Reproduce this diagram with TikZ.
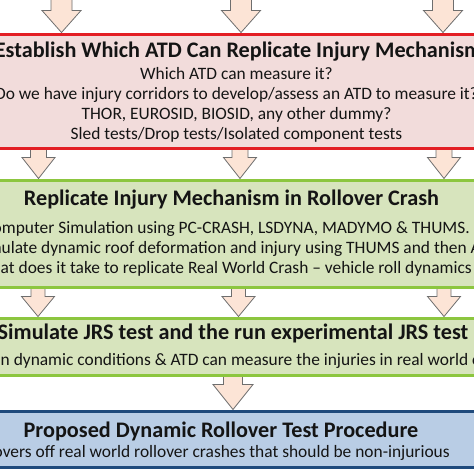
\documentclass[tikz,border=0pt]{standalone}
\usepackage{fontspec}
\setmainfont{Carlito}
\usetikzlibrary{calc}
\usetikzlibrary{backgrounds}
\definecolor{redborder}{HTML}{E31E24}
\definecolor{redfill}{HTML}{F2DCDB}
\definecolor{greenborder}{HTML}{8CC63F}
\definecolor{greenfill}{HTML}{D7E4BD}
\definecolor{blueborder}{HTML}{1F4A7C}
\definecolor{bluefill}{HTML}{B9CDE5}
\definecolor{arrowfill}{HTML}{FCE4D6}
\definecolor{arrowline}{HTML}{6E6E6E}
\definecolor{textcol}{HTML}{141414}
\tikzset{
    box/.style = {rectangle, inner sep=0pt, line width=3pt, minimum width=560},
    red_box/.style = {box, draw=redborder, fill=redfill},
    green_box/.style = {box, draw=greenborder, fill=greenfill},
    blue_box/.style = {box, draw=blueborder, fill=bluefill},
    head_text/.style = {inner sep=0pt, anchor=base, text=textcol, font=\fontsize{22.2}{26}\selectfont\bfseries},
    body_text/.style = {inner sep=0pt, anchor=base, text=textcol, font=\fontsize{17.4}{20}\selectfont},
    down_arrow/.style n args = {3}{draw=arrowline, fill=arrowfill, line width=0.8pt,
        to path={let \p1 = (\tikztostart), \p2 = (\tikztotarget) in
            (\x1-#1, \y1) -- (\x1-#1, \y2+#3) -- (\x1-#2, \y2+#3) -- (\x2, \y2)
            -- (\x1+#2, \y2+#3) -- (\x1+#1, \y2+#3) -- (\x1+#1, \y1) -- cycle}}
}
\begin{document}
\begin{tikzpicture}[x=1pt, y=-1pt]
    \useasboundingbox (0,0) rectangle (474,474);

    \node[red_box, minimum height=114] (establish) at (237,91) {};
    \node[green_box, minimum height=107] (replicate) at (237,233.5) {};
    \node[green_box, minimum height=57] (simulate) at (237,346.5) {};
    \node[blue_box, minimum height=56] (proposed) at (237,439) {};

    \node[head_text] (establish_head) at (238.5,57) {Establish Which ATD Can Replicate Injury Mechanism};
    \node[body_text] (establish_a) at (236.5,79) {Which ATD can measure it?};
    \node[body_text] (establish_b) at (236.5,99) {Do we have injury corridors to develop/assess an ATD to measure it?};
    \node[body_text] (establish_c) at (236.5,119) {THOR, EUROSID, BIOSID, any other dummy?};
    \node[body_text] (establish_d) at (236.5,139) {Sled tests/Drop tests/Isolated component tests};

    \node[head_text] (replicate_head) at (231.5,205) {Replicate Injury Mechanism in Rollover Crash};
    \node[body_text, anchor=base east] (replicate_a) at (470,233) {Computer Simulation using PC-CRASH, LSDYNA, MADYMO \& THUMS.};
    \node[body_text, anchor=base west] (replicate_b) at (-24.4,253) {Simulate dynamic roof deformation and injury using THUMS and then ATD};
    \node[body_text, anchor=base east] (replicate_c) at (472,273) {What does it take to replicate Real World Crash -- vehicle roll dynamics};

    \node[head_text] (simulate_head) at (233,339) {Simulate JRS test and the run experimental JRS test};
    \node[body_text, anchor=base west] (simulate_a) at (-3.5,365) {in dynamic conditions \& ATD can measure the injuries in real world crashes};

    \node[head_text] (proposed_head) at (221,437) {Proposed Dynamic Rollover Test Procedure};
    \node[body_text, anchor=base east] (proposed_a) at (450,457) {Rollovers off real world rollover crashes that should be non-injurious};

    \begin{scope}[on background layer]
        \draw[down_arrow={10.5}{19.5}{22}] (61.5,-10) to (establish.north -| 61.5,0);
        \draw[down_arrow={10.5}{19.5}{22}] (241,-10) to (establish.north -| 241,0);
        \draw[down_arrow={10.5}{19.5}{22}] (443,-10) to (establish.north -| 443,0);
        \draw[down_arrow={8}{16.5}{21}] (establish.south -| 38.5,0) to (replicate.north -| 38.5,0);
        \draw[down_arrow={8}{16.5}{21}] (establish.south -| 240,0) to (replicate.north -| 240,0);
        \draw[down_arrow={8}{16.5}{21}] (establish.south -| 444,0) to (replicate.north -| 444,0);
        \draw[down_arrow={7}{16.5}{20}] (replicate.south -| 38,0) to (simulate.north -| 38,0);
        \draw[down_arrow={7}{16.5}{20}] (replicate.south -| 238.5,0) to (simulate.north -| 238.5,0);
        \draw[down_arrow={7}{16.5}{20}] (replicate.south -| 444,0) to (simulate.north -| 444,0);
        \draw[down_arrow={9.5}{20}{25}] (simulate.south -| 233,0) to (proposed.north -| 233,0);
    \end{scope}
\end{tikzpicture}
\end{document}
